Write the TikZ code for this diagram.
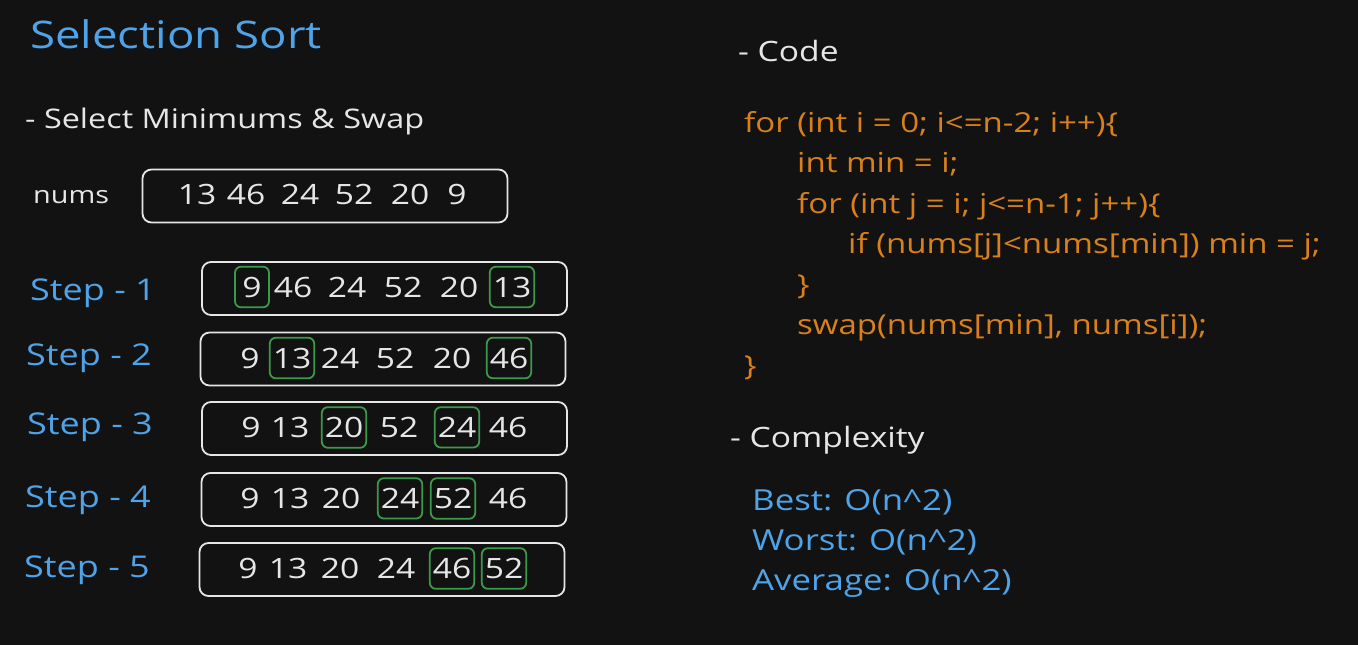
\documentclass[tikz,border=0pt]{standalone}
\usepackage{fontspec}
\setmainfont[FakeStretch=1.2]{Open Sans}
\definecolor{bg}{HTML}{121212}
\definecolor{fgw}{HTML}{E6E6E6}
\definecolor{bl}{HTML}{4FA3E8}
\definecolor{orn}{HTML}{D9801A}
\definecolor{grn}{HTML}{3A9A4A}
\tikzset{
  rowbox/.style={draw=fgw, line width=1.8pt, rounded corners=9pt, minimum width=365pt, minimum height=53pt, inner sep=0pt},
  num/.style={text=fgw, font=\fontsize{28}{30}\selectfont, anchor=base, inner sep=0pt},
  hl/.style={draw=grn, line width=1.8pt, rounded corners=6pt, inner xsep=3pt, inner ysep=10pt, minimum width=34pt},
  steplbl/.style={text=bl, font=\fontsize{30}{32}\selectfont, anchor=base west, inner sep=0pt},
  head/.style={text=fgw, font=\fontsize{28}{30}\selectfont, anchor=base west, inner sep=0pt},
  codeln/.style={text=orn, font=\fontsize{27.5}{30}\selectfont, anchor=base west, inner sep=0pt},
  cplx/.style={text=bl, font=\fontsize{29}{30}\selectfont, anchor=base west, inner sep=0pt},
}
\begin{document}
\begin{tikzpicture}[x=1pt,y=-1pt]
\useasboundingbox (0,0) rectangle (1358,645);
\fill[bg] (0,0) rectangle (1358,645);
% title and headings
\node[text=bl, font=\fontsize{38}{40}\selectfont, anchor=base west, inner sep=0pt] (title) at (30,48) {Selection Sort};
\node[head, font=\fontsize{27}{30}\selectfont] (sel) at (25,128) {- Select Minimums \& Swap};
\node[head, font=\fontsize{24}{30}\selectfont] (numslbl) at (33,203) {nums};
% nums box
\node[rowbox] (nbox) at (325,196) {};
\node[num] (n1) at (197,204) {13};
\node[num] (n2) at (246,204) {46};
\node[num] (n3) at (300,204) {24};
\node[num] (n4) at (354,204) {52};
\node[num] (n5) at (410,204) {20};
\node[num] (n6) at (457,204) {9};
% step 1
\node[steplbl] (s1) at (30,300) {Step - 1};
\node[rowbox] (b1) at (384.5,288.5) {};
\node[num,hl] (a1) at (252,297) {9};
\node[num] (a2) at (293,297) {46};
\node[num] (a3) at (347,297) {24};
\node[num] (a4) at (403,297) {52};
\node[num] (a5) at (459,297) {20};
\node[num,hl] (a6) at (512,297) {13};
% step 2
\node[steplbl] (s2) at (26,365) {Step - 2};
\node[rowbox] (b2) at (383,359) {};
\node[num] (c1) at (250,368) {9};
\node[num,hl] (c2) at (292,368) {13};
\node[num] (c3) at (340,368) {24};
\node[num] (c4) at (395,368) {52};
\node[num] (c5) at (452,368) {20};
\node[num,hl] (c6) at (509,368) {46};
% step 3
\node[steplbl] (s3) at (27,434) {Step - 3};
\node[rowbox] (b3) at (384.5,428.5) {};
\node[num] (d1) at (251,437.5) {9};
\node[num] (d2) at (290,437.5) {13};
\node[num,hl] (d3) at (344,437.5) {20};
\node[num] (d4) at (399,437.5) {52};
\node[num,hl] (d5) at (457,437.5) {24};
\node[num] (d6) at (508,437.5) {46};
% step 4
\node[steplbl] (s4) at (25,507) {Step - 4};
\node[rowbox] (b4) at (384,499.5) {};
\node[num] (e1) at (250,508.5) {9};
\node[num] (e2) at (290,508.5) {13};
\node[num] (e3) at (341,508.5) {20};
\node[num,hl] (e4) at (400,508.5) {24};
\node[num,hl] (e5) at (453,508.5) {52};
\node[num] (e6) at (508,508.5) {46};
% step 5
\node[steplbl] (s5) at (24,577) {Step - 5};
\node[rowbox] (b5) at (382,569.5) {};
\node[num] (f1) at (248,578.5) {9};
\node[num] (f2) at (288,578.5) {13};
\node[num] (f3) at (340,578.5) {20};
\node[num] (f4) at (396,578.5) {24};
\node[num,hl] (f5) at (452,578.5) {46};
\node[num,hl] (f6) at (504,578.5) {52};
% code
\node[head] (codeh) at (738,61) {- Code};
\node[codeln] (l1) at (744,132) {for (int i = 0; i<=n-2; i++)\{};
\node[codeln] (l2) at (797,172.5) {int min = i;};
\node[codeln] (l3) at (797,213) {for (int j = i; j<=n-1; j++)\{};
\node[codeln] (l4) at (848,253.5) {if (nums[j]<nums[min]) min = j;};
\node[codeln] (l5) at (797,294) {\}};
\node[codeln] (l6) at (797,334.5) {swap(nums[min], nums[i]);};
\node[codeln] (l7) at (744,375) {\}};
% complexity
\node[head] (cxh) at (730,447) {- Complexity};
\node[cplx] (best) at (752,510) {Best: O(n\textasciicircum2)};
\node[cplx] (worst) at (752,550) {Worst: O(n\textasciicircum2)};
\node[cplx] (avg) at (752,590) {Average: O(n\textasciicircum2)};
\end{tikzpicture}
\end{document}
